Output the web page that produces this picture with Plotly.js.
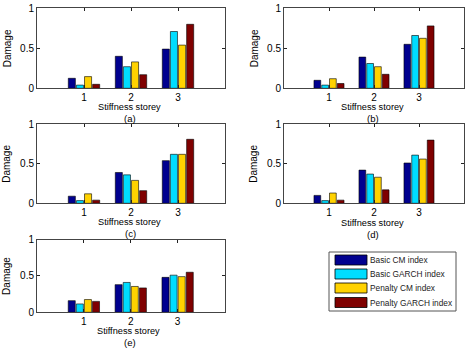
<!DOCTYPE html>
<html>
<head>
<meta charset="utf-8">
<script src="https://cdn.plot.ly/plotly-3.0.1.min.js"></script>
<style>html,body{margin:0;padding:0;background:#fff;}#chart{width:474px;height:350px;}</style>
</head>
<body>
<div id="chart"></div>
<script>
// ---- data ----
const categories = [1, 2, 3];
const seriesNames = ['Basic CM index', 'Basic GARCH index', 'Penalty CM index', 'Penalty GARCH index'];
const seriesColors = ['#00008F', '#00DDFF', '#FFD200', '#7F0000'];
const panelLabels = ['(a)', '(b)', '(c)', '(d)', '(e)'];
// rows: Basic CM, Basic GARCH, Penalty CM, Penalty GARCH; columns: storey 1,2,3
const damageA = [[0.125, 0.40, 0.49], [0.04, 0.27, 0.71], [0.146, 0.33, 0.54], [0.05, 0.17, 0.80]];
const damageB = [[0.10, 0.39, 0.55], [0.04, 0.31, 0.66], [0.12, 0.27, 0.625], [0.06, 0.175, 0.78]];
const damageC = [[0.09, 0.39, 0.54], [0.034, 0.36, 0.62], [0.12, 0.29, 0.62], [0.04, 0.16, 0.81]];
const damageD = [[0.10, 0.42, 0.51], [0.034, 0.37, 0.61], [0.13, 0.33, 0.56], [0.04, 0.17, 0.80]];
const damageE = [[0.16, 0.38, 0.48], [0.115, 0.41, 0.51], [0.175, 0.355, 0.49], [0.15, 0.335, 0.55]];
const yTicks = [0, 0.5, 1];
const yTickText = ['0', '0.5', '1'];

// ---- layout geometry (pixels) ----
const W = 474, H = 350;
const panels = [
  {data: damageA, box: [37, 225, 8.3, 88.3], stiffY: 106.5, labY: 118, damX: 7},
  {data: damageB, box: [284, 464, 8.3, 88.3], stiffY: 106.5, labY: 118, damX: 254},
  {data: damageC, box: [37, 225, 124.3, 203.3], stiffY: 222, labY: 233.5, damX: 7},
  {data: damageD, box: [284, 464, 124.3, 203.3], stiffY: 222.5, labY: 234.5, damX: 254},
  {data: damageE, box: [37, 224.5, 239.5, 312.3], stiffY: 330.5, labY: 342.5, damX: 7}
];
const font = 'Arial, "Liberation Sans", sans-serif';
const px = x => x / W;
const py = y => 1 - y / H;

const traces = [];
const layout = {
  width: W, height: H,
  margin: {l: 0, r: 0, t: 0, b: 0},
  paper_bgcolor: '#fff', plot_bgcolor: '#fff',
  showlegend: false,
  barmode: 'group', bargap: 0.31, bargroupgap: 0.13,
  font: {family: font, size: 10, color: '#000'},
  annotations: [], shapes: []
};

panels.forEach((p, i) => {
  const n = i === 0 ? '' : String(i + 1);
  const [l, r, t, b] = p.box;
  p.data.forEach((vals, s) => {
    traces.push({
      type: 'bar', x: categories, y: vals, name: seriesNames[s],
      xaxis: 'x' + n, yaxis: 'y' + n,
      marker: {color: seriesColors[s], line: {color: '#000', width: 0.6}},
      hoverinfo: 'x+y+name'
    });
  });
  const common = {
    showline: true, linecolor: '#444', linewidth: 1, mirror: 'ticks',
    ticks: 'inside', ticklen: 3, tickcolor: '#222', tickwidth: 1,
    showgrid: false, zeroline: false, fixedrange: true,
    tickfont: {family: font, size: 10, color: '#000'}
  };
  layout['xaxis' + n] = Object.assign({}, common, {
    domain: [px(l), px(r)], anchor: 'y' + n, range: [0, 4],
    tickvals: categories, ticktext: categories.map(String)
  });
  layout['yaxis' + n] = Object.assign({}, common, {
    domain: [py(b), py(t)], anchor: 'x' + n, range: [0, 1],
    tickvals: yTicks, ticktext: yTickText
  });
  const cx = (l + r) / 2;
  layout.annotations.push({
    xref: 'paper', yref: 'paper', x: px(cx - 2), y: py(p.stiffY),
    text: 'Stiffness storey', showarrow: false, xanchor: 'center', yanchor: 'middle',
    font: {family: font, size: 9.2, color: '#000'}, borderpad: 0
  });
  layout.annotations.push({
    xref: 'paper', yref: 'paper', x: px(cx - 1), y: py(p.labY),
    text: panelLabels[i], showarrow: false, xanchor: 'center', yanchor: 'middle',
    font: {family: font, size: 9.5, color: '#000'}, borderpad: 0
  });
  layout.annotations.push({
    xref: 'paper', yref: 'paper', x: px(p.damX), y: py((t + b) / 2),
    text: 'Damage', showarrow: false, xanchor: 'center', yanchor: 'middle', textangle: -90,
    font: {family: font, size: 10, color: '#000'}, borderpad: 0
  });
});

// legend box (drawn manually to match the wide swatches)
layout.shapes.push({
  type: 'rect', xref: 'paper', yref: 'paper',
  x0: px(329), x1: px(456), y0: py(311), y1: py(252),
  line: {color: '#555', width: 1}, fillcolor: '#fff'
});
const rowY = [260, 274, 288, 302.5];
seriesNames.forEach((name, s) => {
  layout.shapes.push({
    type: 'rect', xref: 'paper', yref: 'paper',
    x0: px(335), x1: px(367), y0: py(rowY[s] + 5), y1: py(rowY[s] - 5),
    line: {color: '#000', width: 0.8}, fillcolor: seriesColors[s]
  });
  layout.annotations.push({
    xref: 'paper', yref: 'paper', x: px(369), y: py(rowY[s]),
    text: name, showarrow: false, xanchor: 'left', yanchor: 'middle',
    font: {family: font, size: 8.3, color: '#222'}, borderpad: 0
  });
});

Plotly.newPlot('chart', traces, layout, {displayModeBar: false, staticPlot: true});
</script>
</body>
</html>
